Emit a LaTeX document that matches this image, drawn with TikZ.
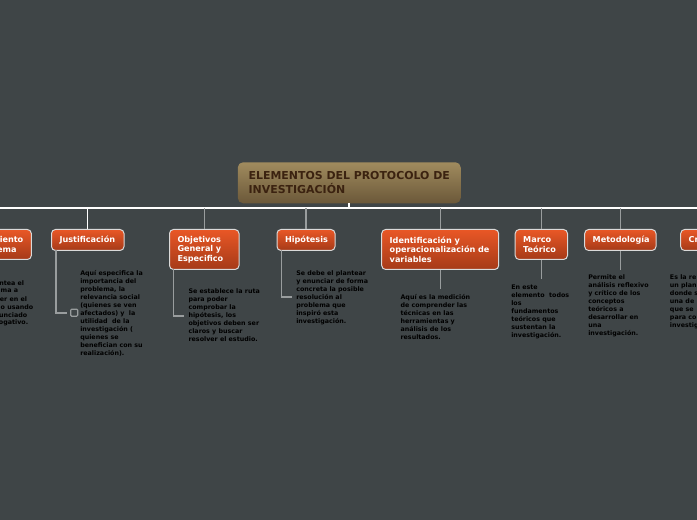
\documentclass[tikz,border=0pt]{standalone}
\usepackage{fontspec}
\setmainfont{DejaVu Sans}
\usetikzlibrary{arrows,shapes}
\definecolor{slate}{HTML}{3F4547}
\definecolor{rootTop}{HTML}{A08B5E}
\definecolor{rootBot}{HTML}{6B5839}
\definecolor{rootInk}{HTML}{3B2210}
\definecolor{boxTop}{HTML}{E95726}
\definecolor{boxBot}{HTML}{A53A18}
\definecolor{stem}{HTML}{999D9E}
\tikzstyle{root}=[rounded corners=4pt,top color=rootTop,bottom color=rootBot,draw=none,anchor=north west,inner sep=0pt,align=left,text=rootInk,font=\fontsize{8.2}{10.5}\selectfont\bfseries]
\tikzstyle{topic}=[rounded corners=3pt,top color=boxTop,bottom color=boxBot,draw=white!85!black,line width=0.75pt,anchor=north west,inner xsep=6pt,inner ysep=0pt,align=left,text=white,font=\fontsize{6.1}{7.1}\selectfont\bfseries]
\tikzstyle{note}=[anchor=north west,inner sep=0pt,align=left,text=black,font=\fontsize{4.75}{6}\selectfont\bfseries]
\tikzstyle{edge} = [draw,line width=0.9pt,stem]
\begin{document}
\begin{tikzpicture}[x=0.75pt,y=-0.75pt]
    \useasboundingbox (0,0) rectangle (697,520);
    \clip (0,0) rectangle (697,520);
    \fill[slate] (0,0) rectangle (697,520);
    % The central title and the line under it
    \node[root,minimum width=167.25pt,minimum height=30.75pt] (root) at (237.5,162) {ELEMENTOS DEL PROTOCOLO DE\\INVESTIGACIÓN};
    \coordinate (trunkL) at (0,208);
    \coordinate (trunkR) at (697,208);
    % The topic boxes
    \foreach \pos/\name/\wid/\hgt/\txt in {
        {(51,229)/just/72.5/21/Justificación},
        {(169,229)/obj/69.5/40/Objetivos\\General y\\Especifico},
        {(276.5,229)/hip/58/21/Hipótesis},
        {(381.2,229)/ident/117/40/Identificación y\\operacionalización de\\variables},
        {(514.7,229)/marco/52.3/30/Marco\\Teórico},
        {(584.2,229)/met/71.3/21/Metodología},
        {(680.2,229)/cron/40/21/Cr}}
        \node[topic,text width=\wid*0.75pt-12pt,minimum height=\hgt*0.75pt] (\name) at \pos {\txt};
    % This one runs off the page
    \node[topic,text width=40pt,minimum height=22.5pt,align=right] (plant) at (-38.5,229) {iento\\ema\kern5pt};
    % Lines from the trunk to the boxes
    \draw[white,line width=1.1pt] (trunkL) -- (trunkR);
    \draw[white,line width=1.5pt] (349,203) -- (349,208);
    \draw[white,line width=0.8pt] (just.north) -- (just.north |- trunkL);
    \foreach \name in {obj,hip,ident,marco,met}
        \path[edge] (\name.north) -- (\name.north |- trunkL);
    % The notes
    \node[note] (justN) at (80,270.2) {Aquí especifica la\\importancia del\\problema, la\\relevancia social\\(quienes se ven\\afectados) y~ la\\utilidad~ de la\\investigación (\\quienes se\\benefician con su\\realización).};
    \node[note] (objN) at (188.3,288.7) {Se establece la ruta\\para poder\\comprobar la\\hipótesis, los\\objetivos deben ser\\claros y buscar\\resolver el estudio.};
    \node[note] (hipN) at (296,270.2) {Se debe el plantear\\y enunciar de forma\\concreta la posible\\resolución al\\problema que\\inspiró esta\\investigación.};
    \node[note] (identN) at (400.3,294.2) {Aquí es la medición\\de comprender las\\técnicas en las\\herramientas y\\análisis de los\\resultados.};
    \node[note] (marcoN) at (511,284.2) {En este\\elemento~ todos\\los\\fundamentos\\teóricos que\\sustentan la\\investigación.};
    \node[note] (metN) at (588,274.7) {Permite el\\análisis reflexivo\\y crítico de los\\conceptos\\teóricos a\\desarrollar en\\una\\investigación.};
    \node[note] (cronN) at (669.7,274.7) {Es la re\\un plan\\donde s\\una de\\que se\\para co\\investig};
    \foreach \y/\xe/\txt/\name in {282.7/24.3/ntea el/p1,290.7/18.3/ma a/p2,298.7/27.3/er en el/p3,306.7/33.5/o usando/p4,314.7/27.5/unciado/p5,322.7/28.5/ogativo./p6}
        \node[note,anchor=east] (\name) at (\xe,\y) {\txt};
    % Stems under the boxes
    \coordinate (justE) at (66.7,313);
    \coordinate (objE) at (184,316);
    \coordinate (hipE) at (291.7,297);
    \coordinate (identE) at (440.2,289);
    \coordinate (marcoE) at (540.8,279);
    \coordinate (metE) at (620.3,270);
    \foreach \name/\xs/\ys in {just/55.9/250,obj/173.7/269,hip/281.7/250}
        \path[edge] (\xs,\ys) -- (\xs,\ys |- \name E) -- (\name E);
    \foreach \name in {ident,marco,met}
        \path[edge] (\name.south) -- (\name.south |- \name E);
    \node[draw=stem,line width=0.9pt,rounded corners=0.7pt,minimum size=5.2pt,inner sep=0pt] (justBox) at (74.2,312.7) {};
\end{tikzpicture}
\end{document}
